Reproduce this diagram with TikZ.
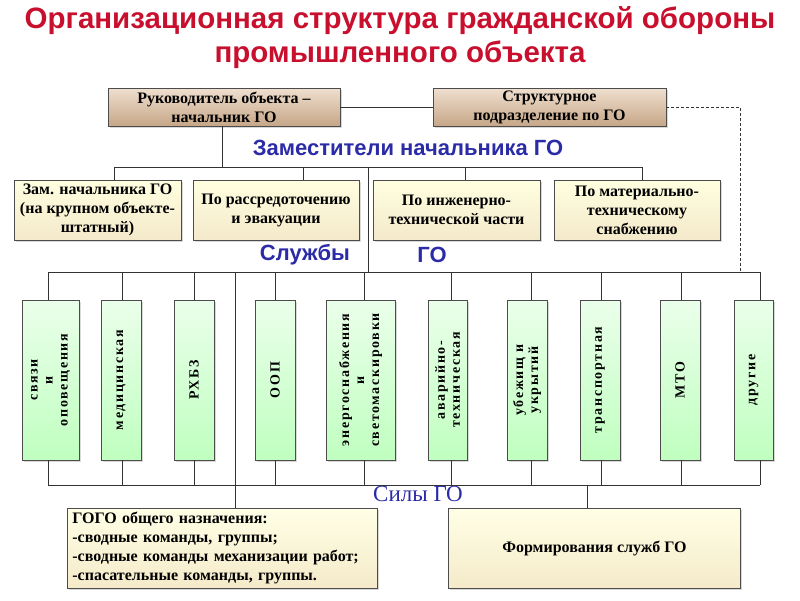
\documentclass[tikz,border=0pt]{standalone}
\usepackage{fontspec}
\setmainfont{Liberation Serif}
\newfontfamily\hdr{Liberation Sans}
\newfontfamily\spaced[LetterSpace=12]{Liberation Serif}
\usetikzlibrary{shadows}
\definecolor{ttl}{HTML}{C8102E}
\definecolor{blu}{HTML}{2B2BA8}
\tikzset{
 box/.style={draw=black!70,line width=0.8pt,align=center,font=\bfseries\fontsize{16}{19}\selectfont,inner sep=2pt,drop shadow={shadow xshift=1.5pt,shadow yshift=-1.5pt,opacity=0.3}},
 topbox/.style={box,top color=brown!25!white,bottom color=brown!55!white!90!black},
 depbox/.style={box,top color=yellow!12!white,bottom color=yellow!30!brown!25!white},
 srvbox/.style={box,top color=green!8!white,bottom color=green!25!white},
 lowbox/.style={box,top color=yellow!10!white,bottom color=yellow!35!brown!25!white},
 ln/.style={line width=0.8pt,black!80},
 vt/.style={rotate=90,font=\spaced\bfseries\fontsize{14}{15}\selectfont,align=center},
 bl/.style={font=\hdr\bfseries\fontsize{22}{26}\selectfont,text=blu}
}
\begin{document}
\begin{tikzpicture}[x=1pt,y=-1pt]
\useasboundingbox (0,0) rectangle (800,600);
\node[font=\hdr\bfseries\fontsize{29.5}{34}\selectfont,text=ttl,align=center] (title) at (400,38) {Организационная структура гражданской обороны\\промышленного объекта};
% top
\node[topbox,minimum width=232pt,minimum height=38pt] (ruk) at (224,107) {Руководитель объекта –\\начальник ГО};
\node[topbox,minimum width=233pt,minimum height=38pt] (str) at (549.5,107) {Структурное\\подразделение по ГО};
\draw[ln] (ruk.east) -- (str.west);
\node[bl] (zam) at (408,148) {Заместители начальника ГО};
% deputies
\node[depbox,minimum width=167pt,minimum height=60pt] (d1) at (97.5,210) {Зам. начальника ГО\\(на крупном объекте-\\штатный)};
\node[depbox,minimum width=166pt,minimum height=60pt] (d2) at (276,210) {По рассредоточению\\и эвакуации};
\node[depbox,minimum width=167pt,minimum height=60pt] (d3) at (456.5,210) {По инженерно-\\технической части};
\node[depbox,minimum width=166pt,minimum height=60pt] (d4) at (637,210) {По материально-\\техническому\\снабжению};
\coordinate (b1) at (222,167);
\draw[ln] (ruk.south -| b1) -- (b1);
\draw[ln] (114,167) -- (642,167);
\draw[ln] (114,167) -- (114,180);
\draw[ln] (303,167) -- (303,180);
\draw[ln] (465,167) -- (465,180);
\draw[ln] (642,167) -- (642,180);
\node[bl] (sl) at (305,255) {Службы};
\node[bl] (go) at (432,255) {ГО};
\draw[ln] (368,167) -- (368,272);
\draw[ln] (48,272) -- (760,272);
\draw[ln,densely dashed,line width=0.7pt] (str.east) -- (740,107) -- (740,272);
% services
\foreach \n/\a/\b/\t in {s1/22/79/{связи\\и\\оповещения},s2/101/141/{медицинская},s3/174/214/{РХБЗ},s4/255/295/{ООП},s5/326/395/{энергоснабжения\\и\\светомаскировки},s6/428/467/{аварийно-\\техническая},s7/507/547/{убежищ и\\укрытий},s8/580/620/{транспортная},s9/660/700/{МТО},s10/734/773/{другие}}{
 \node[srvbox,minimum width=\b pt-\a pt,minimum height=160pt] (\n) at ({(\a+\b)/2},380) {};
 \node[vt] at (\n.center) {\t};
}
\foreach \n/\x in {s1/48,s2/122,s3/194,s4/275,s5/364,s6/451,s7/531,s8/601,s9/681,s10/760}{
 \draw[ln] (\x,272) -- (\x,300);
 \draw[ln] (\x,460) -- (\x,485);
}
\draw[ln] (48,485) -- (760,485);
\node[font=\fontsize{23}{26}\selectfont,text=blu] (sily) at (418,494) {Силы ГО};
% lower
\node[lowbox,minimum width=310pt,minimum height=80pt,align=left,anchor=north west,text width=300pt,inner xsep=5pt] (gogo) at (67,508) {ГОГО общего назначения:\\-сводные команды, группы;\\-сводные команды механизации работ;\\-спасательные команды, группы.};
\node[lowbox,minimum width=292pt,minimum height=80pt,anchor=north west] (form) at (448,508) {Формирования служб ГО};
\draw[ln] (235,272) -- (235,508);
\draw[ln] (587,485) -- (587,508);
\end{tikzpicture}
\end{document}
